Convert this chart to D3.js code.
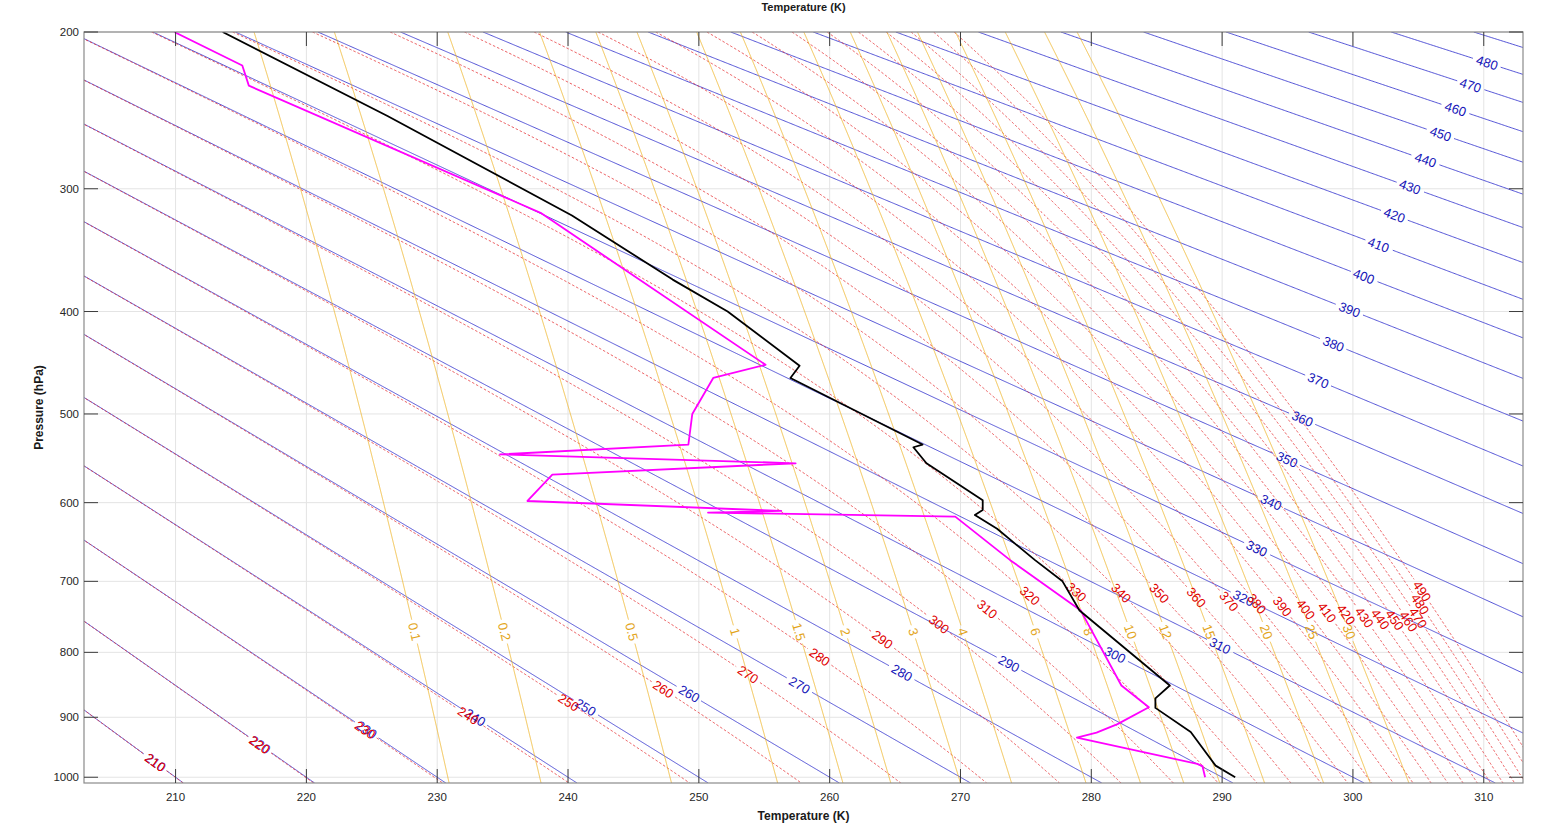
<!DOCTYPE html>
<html><head><meta charset="utf-8">
<script src="https://cdn.jsdelivr.net/npm/d3@7"></script>
<style>
body{margin:0;background:#fff}
svg{font-family:"Liberation Sans",Arial,Helvetica,sans-serif}
</style>
</head><body>
<svg id="c" width="1567" height="839"></svg>
<script>
// ---------------- data ----------------
const dryLevels = d3.range(210, 500, 10);          // potential temperature (K)
const dryLabelLevels = d3.range(210, 490, 10);
const moistLevels = d3.range(210, 500, 10);        // equivalent potential temperature (K)
const mixLevels = [0.1,0.2,0.5,1,1.5,2,3,4,6,8,10,12,15,20,25,30]; // g/kg
const xTicks = d3.range(210, 311, 10);
const yTicks = [200,300,400,500,600,700,800,900,1000];

// temperature profile
const tempP = [200,250,320,372,400,451,463,533,536,554,597,609,615,632,672,700,740,850,870,885,924,980,1000];
const tempT = [213.6,226.2,240.3,248.0,252.2,257.7,257.0,267.1,266.4,267.4,271.7,271.7,271.1,272.8,275.7,277.8,279.1,286.0,284.9,284.9,287.6,289.5,291.0];
// dew point profile
const dewP = [200,219,231,318,450,463,500,533,544,554,567,598,610,612,617,672,740,850,884,911,925,933,977,981,1000];
const dewT = [209.9,215.1,215.6,237.9,255.1,251.1,249.5,249.2,234.8,257.4,238.8,236.9,256.3,250.7,269.6,273.8,279.2,282.3,284.4,282.0,280.4,278.9,288.1,288.5,288.7];

// ---------------- layout: label guide paths (screen px) ----------------
const dryGuide = [[88,773],[152,763],[258,745],[365,730],[470,718],[580,708],[686,694],[793,686],[899,673],[1006,664],[1112,655],[1219,648],[1244,597],[1256,551],[1270,505],[1286,462],[1302,420],[1318,381],[1333,345],[1349,311],[1363,278],[1378,246],[1394,216],[1410,187],[1425,161],[1440,135],[1455,110],[1470,86],[1487,63],[1500,40]];
const moistGuide = [[88,775],[152,763],[258,745],[365,730],[466,716],[565,703],[659,690],[742,676],[816,658],[881,640],[937,625],[985,610],[1027,596],[1075,592],[1118,593],[1157,593],[1193,597],[1224,601],[1250,603],[1279,606],[1303,609],[1323,612],[1343,614],[1360,617],[1378,619],[1393,620],[1405,620],[1417,625],[1423,585],[1425,560]];
const mixGuideP = 770; // hPa

// ---------------- physics ----------------
const kappa=0.286, Lv=2.5e6, cp=1004, Rv=461.5, eps=0.622;
function es(T){ return 6.11*Math.exp(Lv/Rv*(1/273.15-1/T)); }
function thetaE(T,p){
  const e=es(T); if(e>=p*0.95) return Infinity;
  const r=eps*e/(p-e);
  return T*Math.pow(1000/p,kappa)*Math.exp(Lv*r/(cp*T));
}
function moistT(te,p){ let lo=100,hi=380; for(let i=0;i<50;i++){const m=(lo+hi)/2; if(thetaE(m,p)<te) lo=m; else hi=m;} return (lo+hi)/2; }
function dryT(th,p){ return th*Math.pow(p/1000,kappa); }
function mixT(r,p){ const e=r*p/(622+r); return 1/(1/273.15 - Math.log(e/6.11)*Rv/Lv); }

// ---------------- scales ----------------
const plot={l:84,r:1523,t:32,b:783};
const x=d3.scaleLinear().domain([203,313]).range([plot.l,plot.r]);
const y=d3.scalePow().exponent(kappa).domain([200,1010]).range([plot.t,plot.b]);
const svg=d3.select('#c');
svg.append('defs').append('clipPath').attr('id','clip').append('rect')
  .attr('x',plot.l).attr('y',plot.t).attr('width',plot.r-plot.l).attr('height',plot.b-plot.t);

// grid
const grid=svg.append('g').attr('stroke','#e4e4e4').attr('stroke-width',1);
grid.selectAll('.vg').data(xTicks).join('line').attr('x1',d=>x(d)).attr('x2',d=>x(d)).attr('y1',plot.t).attr('y2',plot.b);
grid.selectAll('.hg').data(yTicks).join('line').attr('y1',d=>y(d)).attr('y2',d=>y(d)).attr('x1',plot.l).attr('x2',plot.r);

const N=1600;
const pSamples=d3.range(N+1).map(i=>y.invert(plot.t+(plot.b-plot.t)*i/N));
function curve(fT){ return pSamples.map(p=>[x(fT(p)),y(p)]); }
function intersect(poly,guide){
  for(let i=0;i<poly.length-1;i++){
    const [ax,ay]=poly[i],[bx,by]=poly[i+1];
    for(let j=0;j<guide.length-1;j++){
      const [cx,cy]=guide[j],[dx,dy]=guide[j+1];
      const den=(bx-ax)*(dy-cy)-(by-ay)*(dx-cx);
      if(Math.abs(den)<1e-12) continue;
      const t=((cx-ax)*(dy-cy)-(cy-ay)*(dx-cx))/den;
      const u=((cx-ax)*(by-ay)-(cy-ay)*(bx-ax))/den;
      if(t>=0&&t<=1&&u>=0&&u<=1){
        const i0=Math.max(0,i-4), i1=Math.min(poly.length-1,i+5);
        let ang=Math.atan2(poly[i1][1]-poly[i0][1],poly[i1][0]-poly[i0][0])*180/Math.PI;
        if(ang>90) ang-=180; if(ang<-90) ang+=180;
        return {x:ax+t*(bx-ax),y:ay+t*(by-ay),ang};
      }
    }
  }
  return null;
}

const lineLayer=svg.append('g').attr('clip-path','url(#clip)');
function family(levels,labelLevels,fT,guide,stroke,width,dash,textColor){
  const lg=lineLayer.append('g');
  const tg=svg.append('g').attr('font-size','13px').attr('fill',textColor);
  levels.forEach(v=>{
    const pts=curve(p=>fT(v,p));
    let lab=null, gap=0;
    if(labelLevels.includes(v)) lab=intersect(pts,guide);
    if(lab && (lab.x<plot.l+5||lab.x>plot.r-5||lab.y<plot.t+5||lab.y>plot.b-5)) lab=null;
    if(lab){
      const t=tg.append('text').text(String(v))
        .attr('text-anchor','middle').attr('dy','0.35em')
        .attr('transform',`translate(${lab.x},${lab.y}) rotate(${lab.ang})`);
      gap=t.node().getComputedTextLength()/2+3;
    }
    const line=d3.line().defined(d=>!lab||Math.hypot(d[0]-lab.x,d[1]-lab.y)>gap);
    lg.append('path').attr('d',line(pts)).attr('fill','none')
      .attr('stroke',stroke).attr('stroke-width',width)
      .attr('stroke-dasharray',dash||null);
  });
}

const mixGuide=[[plot.l,y(mixGuideP)],[plot.r,y(mixGuideP)]];
family(dryLevels,dryLabelLevels,dryT,dryGuide,'#2a2acb',0.8,null,'#1414b8');
family(moistLevels,moistLevels,moistT,moistGuide,'#e4282c',0.8,'2.5,2','#e00000');
family(mixLevels,mixLevels,mixT,mixGuide,'#edb120',0.8,null,'#e3a51a');

// profiles
const prof=svg.append('g').attr('clip-path','url(#clip)');
const pl=d3.line().x(d=>x(d[0])).y(d=>y(d[1]));
prof.append('path').attr('d',pl(dewT.map((t,i)=>[t,dewP[i]]))).attr('fill','none').attr('stroke','#ff00ff').attr('stroke-width',1.8).attr('stroke-linejoin','round');
prof.append('path').attr('d',pl(tempT.map((t,i)=>[t,tempP[i]]))).attr('fill','none').attr('stroke','#000').attr('stroke-width',1.8).attr('stroke-linejoin','round');

// axes box & ticks
const ax=svg.append('g');
ax.append('rect').attr('x',plot.l).attr('y',plot.t).attr('width',plot.r-plot.l).attr('height',plot.b-plot.t)
  .attr('fill','none').attr('stroke','#8a8a8a').attr('stroke-width',1.2);
const tl=14;
const tk=ax.append('g').attr('stroke','#3c3c3c').attr('stroke-width',1);
xTicks.forEach(v=>{
  tk.append('line').attr('x1',x(v)).attr('x2',x(v)).attr('y1',plot.b).attr('y2',plot.b-tl);
  tk.append('line').attr('x1',x(v)).attr('x2',x(v)).attr('y1',plot.t).attr('y2',plot.t+tl);
});
yTicks.forEach(v=>{
  tk.append('line').attr('y1',y(v)).attr('y2',y(v)).attr('x1',plot.l).attr('x2',plot.l+tl);
  tk.append('line').attr('y1',y(v)).attr('y2',y(v)).attr('x1',plot.r).attr('x2',plot.r-tl);
});
const lab=svg.append('g').attr('fill','#262626').attr('font-size','11.5px');
lab.selectAll('.xl').data(xTicks).join('text').attr('x',d=>x(d)).attr('y',801).attr('text-anchor','middle').text(d=>d);
lab.selectAll('.yl').data(yTicks).join('text').attr('x',79).attr('y',d=>y(d)).attr('dy','0.35em').attr('text-anchor','end').text(d=>d);
svg.append('text').attr('x',(plot.l+plot.r)/2).attr('y',820).attr('text-anchor','middle')
  .attr('font-weight','bold').attr('font-size','12px').attr('fill','#1a1a1a').text('Temperature (K)');
svg.append('text').attr('x',(plot.l+plot.r)/2).attr('y',11).attr('text-anchor','middle')
  .attr('font-weight','bold').attr('font-size','11px').attr('fill','#1a1a1a').text('Temperature (K)');
svg.append('text').attr('transform',`translate(43,${(plot.t+plot.b)/2}) rotate(-90)`).attr('text-anchor','middle')
  .attr('font-weight','bold').attr('font-size','12px').attr('fill','#1a1a1a').text('Pressure (hPa)');
</script>
</body></html>
